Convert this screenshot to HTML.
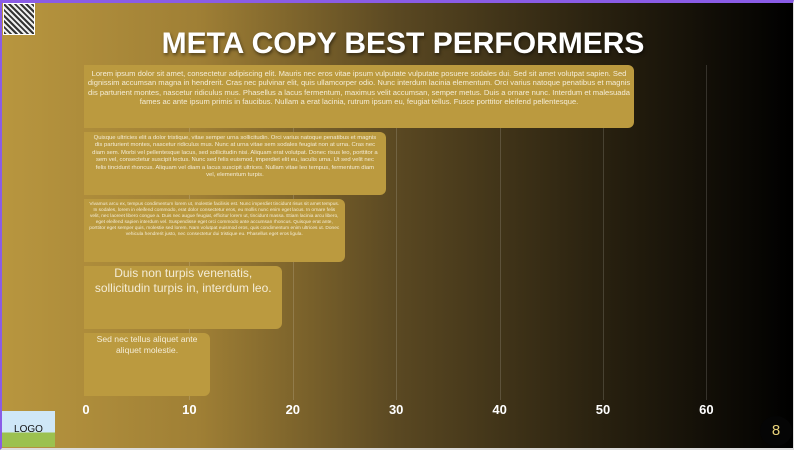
<!DOCTYPE html>
<html><head><meta charset="utf-8"><style>
body{margin:0;width:794px;height:450px;overflow:hidden;font-family:"Liberation Sans",sans-serif}
#slide{position:absolute;left:0;top:0;width:794px;height:450px;box-sizing:border-box;border-top:3px solid #8a5ce6;border-left:2px solid #8a5ce6;border-right:1px solid #ddd;border-bottom:2px solid #ddd;background:linear-gradient(90deg,#b8963f 0%,#9f7f35 25%,#5a4822 50%,#2a2210 75%,#000 100%)}
#inner{position:absolute;left:-2px;top:-3px;width:794px;height:450px}
.title{position:absolute;left:0;width:806px;top:27px;text-align:center;color:#fff;font-weight:900;font-size:30px;letter-spacing:0px;text-shadow:1px 2px 3px rgba(0,0,0,.5)}
.bar{position:absolute;background:#bb9a3f;border-radius:0 6px 6px 0;color:#f4ecd6;text-align:center;box-sizing:border-box;padding:4px 3px;line-height:1.25;overflow:hidden}
.grid{position:absolute;width:1px;background:rgba(255,255,255,.15)}
.tick{position:absolute;top:402px;color:#fff;font-weight:bold;font-size:13px;transform:translateX(-50%)}
</style></head><body>
<div id="slide"><div id="inner">
<div style="position:absolute;left:3px;top:3px;width:30px;height:30px;background:repeating-linear-gradient(45deg,#333 0 2px,#eee 2px 4px);border:1px solid #fff"></div>
<div class="title">META COPY BEST PERFORMERS</div>
<div id="chart"></div>
<div style="position:absolute;left:2px;top:411px;width:53px;height:36px;background:linear-gradient(180deg,#cfe7f7 60%,#9cc14f 60%);font-size:10px;color:#111;text-align:center;line-height:38px">LOGO</div>
<div style="position:absolute;left:760px;top:416px;width:32px;height:30px;border-radius:50%;background:#050505;color:#e8d27a;font-size:15px;text-align:center;line-height:30px">8</div>
</div></div>
<script>
const categories=["Lorem ipsum dolor sit amet, consectetur adipiscing elit. Mauris nec eros vitae ipsum vulputate vulputate posuere sodales dui. Sed sit amet volutpat sapien. Sed dignissim accumsan magna in hendrerit. Cras nec pulvinar elit, quis ullamcorper odio. Nunc interdum lacinia elementum. Orci varius natoque penatibus et magnis dis parturient montes, nascetur ridiculus mus. Phasellus a lacus fermentum, maximus velit accumsan, semper metus. Duis a ornare nunc. Interdum et malesuada fames ac ante ipsum primis in faucibus. Nullam a erat lacinia, rutrum ipsum eu, feugiat tellus. Fusce porttitor eleifend pellentesque.",
"Quisque ultricies elit a dolor tristique, vitae semper urna sollicitudin. Orci varius natoque penatibus et magnis dis parturient montes, nascetur ridiculus mus. Nunc at urna vitae sem sodales feugiat non at urna. Cras nec diam sem. Morbi vel pellentesque lacus, sed sollicitudin nisi. Aliquam erat volutpat. Donec risus leo, porttitor a sem vel, consectetur suscipit lectus. Nunc sed felis euismod, imperdiet elit eu, iaculis urna. Ut sed velit nec felis tincidunt rhoncus. Aliquam vel diam a lacus suscipit ultrices. Nullam vitae leo tempus, fermentum diam vel, elementum turpis.",
"Vivamus arcu ex, tempus condimentum lorem ut, molestie facilisis est. Nunc imperdiet tincidunt risus sit amet tempus. In sodales, lorem in eleifend commodo, erat dolor consectetur eros, eu mollis nunc enim eget lacus. In ornare felis velit, nec laoreet libero congue a. Duis nec augue feugiat, efficitur lorem ut, tincidunt massa. Etiam lacinia arcu libero, eget eleifend sapien interdum vel. Suspendisse eget orci commodo ante accumsan rhoncus. Quisque erat ante, porttitor eget semper quis, molestie sed lorem. Nam volutpat euismod eros, quis condimentum enim ultrices ut. Donec vehicula hendrerit justo, nec consectetur dui tristique eu. Phasellus eget eros ligula.",
"Duis non turpis venenatis, sollicitudin turpis in, interdum leo.",
"Sed nec tellus aliquet ante aliquet molestie."];
const values=[53,29,25,19,12];
const ticks=[0,10,20,30,40,50,60];
const fontSizes=[7.6,5.9,4.8,12,8.6];
const pads=['4px 3px','3px 8px','3px 4px','0px 8px','1px 6px'];
const x0=86,pxPer=10.34,top0=65,band=67,barH=63;
const xs=v=>x0+v*pxPer;
const chart=document.getElementById('chart');
ticks.forEach(t=>{
 if(t>0){const g=document.createElement('div');g.className='grid';
 
 
 g.style.left=xs(t)+'px';g.style.top=top0+'px';g.style.height=(band*5)+'px';chart.appendChild(g);}
 const l=document.createElement('div');l.className='tick';
 
 
 l.style.left=xs(t)+'px';l.textContent=t;chart.appendChild(l);
});
values.forEach((v,i)=>{
 const b=document.createElement('div');b.className='bar';
 
 
 b.style.left=(x0-2)+'px';b.style.top=(top0+i*band)+'px';b.style.width=(xs(v)-x0+2)+'px';b.style.height=barH+'px';
 b.style.fontSize=fontSizes[i]+'px';b.style.padding=pads[i];b.textContent=categories[i];chart.appendChild(b);
});
</script>
</body></html>
